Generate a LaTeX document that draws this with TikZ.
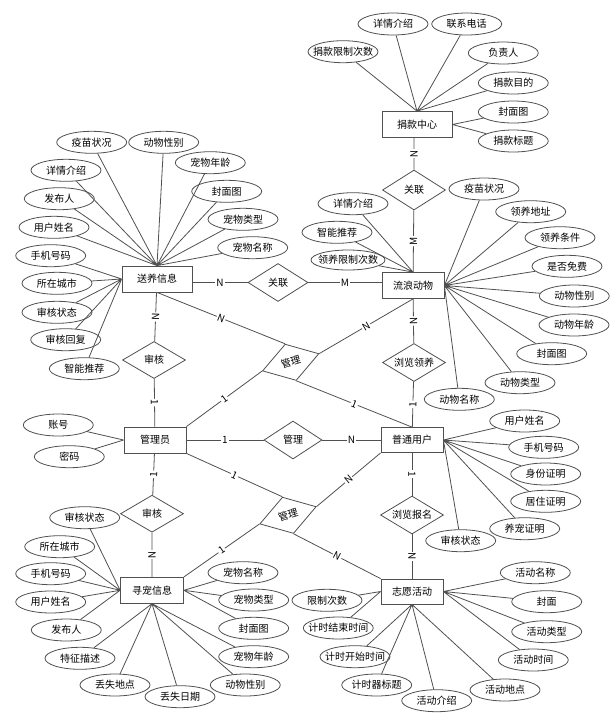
\documentclass[tikz,border=0pt]{standalone}
\usepackage{fontspec}
\setmainfont{Noto Sans CJK SC}
\usetikzlibrary{shapes.geometric}
\definecolor{erline}{RGB}{80,80,80}
\tikzset {
  er node/.style = {
    draw = erline,
    line width = 0.8pt,
    font = \fontsize{10}{12}\selectfont
  },
  % entity set
  entity/.style = {
    er node,
    rectangle,
    minimum width = 62pt,
    minimum height = 26pt,
    inner sep = 0
  },
  % attribute
  attr/.style = {
    er node,
    ellipse,
    minimum width = 70pt,
    minimum height = 22pt,
    inner xsep = -10pt,
    inner ysep = 0
  },
  % relationship
  rel/.style = {
    er node,
    diamond,
    aspect = 1.6,
    minimum width = 62pt,
    minimum height = 38pt,
    inner sep = 0
  }
}
\tikzset {
  link/.style = {
    draw = erline,
    line width = 0.8pt
  },
  % cardinality on a connector
  card/.style = {
    fill = white,
    inner sep = 1pt,
    sloped,
    font = \fontsize{10}{12}\selectfont
  }
}

\begin{document}
\begin{tikzpicture}[x=1pt, y=-1pt]
  \useasboundingbox (0,0) rectangle (613,716);

  % entities
  \node[entity, minimum width=70pt] (donate) at (417,124.5) {捐款中心};
  \node[entity, minimum width=70pt] (adopt-info) at (157,279) {送养信息};
  \node[entity] (stray) at (413,285.5) {流浪动物};
  \node[entity] (admin) at (155,440) {管理员};
  \node[entity, minimum height=25pt] (user) at (412,440) {普通用户};
  \node[entity, minimum width=63pt] (lost-info) at (152,590.3) {寻宠信息};
  \node[entity, minimum height=25pt] (volunteer) at (412,591.5) {志愿活动};

  % relationships
  \node[rel, minimum width=63pt, minimum height=40pt] (rel-donate) at (414,190) {关联};
  \node[rel, minimum width=60pt] (rel-adopt) at (278,282.5) {关联};
  \node[rel, minimum width=63pt, minimum height=37pt] (check-adopt) at (154,360) {审核};
  \node[rel, minimum width=63pt] (browse-adopt) at (414,362.5) {浏览领养};
  \node[rel, minimum width=58pt] (manage) at (293,440) {管理};
  \node[rel, minimum width=63pt, minimum height=37pt] (check-lost) at (152,513.7) {审核};
  \node[rel, minimum width=63pt] (browse-sign) at (412,515) {浏览报名};
  \node[rel, minimum width=59pt, rotate=17] (manage-up) at (290.7,362.3) {管理};
  \node[rel, minimum width=59pt, rotate=17] (manage-down) at (288,515.3) {管理};

  % attributes of 捐款中心
  \node[attr] (dn-limit) at (343,51.7) {捐款限制次数};
  \node[attr] (dn-detail) at (393,24) {详情介绍};
  \node[attr] (dn-phone) at (466.7,24) {联系电话};
  \node[attr] (dn-leader) at (503.3,53) {负责人};
  \node[attr] (dn-purpose) at (513.3,83) {捐款目的};
  \node[attr] (dn-cover) at (513.3,112) {封面图};
  \node[attr] (dn-title) at (513.3,141) {捐款标题};

  % attributes of 送养信息
  \node[attr] (ai-vaccine) at (91.7,142.3) {疫苗状况};
  \node[attr] (ai-gender) at (163.7,142.3) {动物性别};
  \node[attr] (ai-age) at (210.3,162.7) {宠物年龄};
  \node[attr] (ai-cover) at (226.7,191.3) {封面图};
  \node[attr] (ai-type) at (243,219.3) {宠物类型};
  \node[attr] (ai-name) at (252.7,247.7) {宠物名称};
  \node[attr] (ai-detail) at (66,170.3) {详情介绍};
  \node[attr] (ai-poster) at (59.3,198.7) {发布人};
  \node[attr] (ai-username) at (54,227.3) {用户姓名};
  \node[attr] (ai-phone) at (50.7,255.7) {手机号码};
  \node[attr] (ai-city) at (57,283.3) {所在城市};
  \node[attr] (ai-status) at (57,312.3) {审核状态};
  \node[attr] (ai-reply) at (65.7,339.7) {审核回复};
  \node[attr] (ai-recommend) at (84.3,368.7) {智能推荐};

  % attributes of 流浪动物
  \node[attr] (st-detail) at (353,203.7) {详情介绍};
  \node[attr] (st-recommend) at (337,232.3) {智能推荐};
  \node[attr, minimum width=74pt, minimum height=20pt] (st-limit) at (348,260) {领养限制次数};
  \node[attr] (st-vaccine) at (484,189) {疫苗状况};
  \node[attr] (st-address) at (530.7,211.7) {领养地址};
  \node[attr] (st-condition) at (560,237.7) {领养条件};
  \node[attr] (st-free) at (567,266.3) {是否免费};
  \node[attr] (st-gender) at (574.3,296) {动物性别};
  \node[attr] (st-age) at (574,325) {动物年龄};
  \node[attr] (st-cover) at (551.7,353.7) {封面图};
  \node[attr] (st-type) at (520,382.7) {动物类型};
  \node[attr] (st-name) at (459.3,399.3) {动物名称};

  % attributes of 管理员
  \node[attr] (ad-account) at (58.3,425) {账号};
  \node[attr] (ad-password) at (69.3,456.7) {密码};

  % attributes of 普通用户
  \node[attr] (us-name) at (524.7,421) {用户姓名};
  \node[attr] (us-phone) at (543.7,447.3) {手机号码};
  \node[attr] (us-id) at (545.7,474) {身份证明};
  \node[attr] (us-residence) at (545.7,501.3) {居住证明};
  \node[attr] (us-petcert) at (524.7,528.7) {养宠证明};
  \node[attr] (us-status) at (460.7,540.7) {审核状态};

  % attributes of 寻宠信息
  \node[attr] (li-status) at (84.7,517.7) {审核状态};
  \node[attr] (li-city) at (59.7,546.7) {所在城市};
  \node[attr] (li-phone) at (50.7,573.7) {手机号码};
  \node[attr] (li-username) at (50.7,602) {用户姓名};
  \node[attr] (li-poster) at (66.3,630) {发布人};
  \node[attr] (li-feature) at (80,658.3) {特征描述};
  \node[attr] (li-place) at (115,685) {丢失地点};
  \node[attr] (li-date) at (180,696.7) {丢失日期};
  \node[attr] (li-gender) at (245.3,685) {动物性别};
  \node[attr] (li-age) at (253.7,656.7) {宠物年龄};
  \node[attr] (li-name) at (243,572.7) {宠物名称};
  \node[attr] (li-type) at (253.7,600) {宠物类型};
  \node[attr] (li-cover) at (253.7,628.3) {封面图};

  % attributes of 志愿活动
  \node[attr] (vo-limit) at (327,600.3) {限制次数};
  \node[attr] (vo-end) at (338.3,628) {计时结束时间};
  \node[attr] (vo-start) at (355,656.7) {计时开始时间};
  \node[attr] (vo-timer) at (376.7,685) {计时器标题};
  \node[attr] (vo-intro) at (436.7,700.7) {活动介绍};
  \node[attr] (vo-place) at (505,690) {活动地点};
  \node[attr] (vo-time) at (533.3,660) {活动时间};
  \node[attr] (vo-type) at (546.7,631.7) {活动类型};
  \node[attr] (vo-cover) at (546.7,601.7) {封面};
  \node[attr] (vo-name) at (535.3,572.7) {活动名称};

  % attribute connectors
  \draw[link] (donate.north) -- (dn-limit)
    (donate.north) -- (dn-detail)
    (donate.north) -- (dn-phone)
    (donate.north) -- (dn-leader)
    (donate.north) -- (dn-purpose)
    (donate.east) -- (dn-cover)
    (donate.east) -- (dn-title);

  \draw[link] (adopt-info.north) -- (ai-vaccine)
    (adopt-info.north) -- (ai-gender)
    (adopt-info.north) -- (ai-age)
    (adopt-info.north) -- (ai-cover)
    (adopt-info.north) -- (ai-type)
    (adopt-info.north) -- (ai-name)
    (adopt-info.north) -- (ai-detail)
    (adopt-info.north) -- (ai-poster)
    (adopt-info.north) -- (ai-username)
    (adopt-info.west) -- (ai-phone)
    (adopt-info.west) -- (ai-city)
    (adopt-info.west) -- (ai-status)
    (adopt-info.west) -- (ai-reply)
    (adopt-info.west) -- (ai-recommend);

  \draw[link] (stray.north) -- (st-detail)
    (stray.north) -- (st-recommend)
    (stray.north) -- (st-limit)
    (stray.east) -- (st-vaccine)
    (stray.east) -- (st-address)
    (stray.east) -- (st-condition)
    (stray.east) -- (st-free)
    (stray.east) -- (st-gender)
    (stray.east) -- (st-age)
    (stray.east) -- (st-cover)
    (stray.east) -- (st-type)
    (stray.east) -- (st-name);

  \draw[link] (admin.west) -- (ad-account)
    (admin.west) -- (ad-password);

  \draw[link] (user.east) -- (us-name)
    (user.east) -- (us-phone)
    (user.east) -- (us-id)
    (user.east) -- (us-residence)
    (user.east) -- (us-petcert)
    (user.east) -- (us-status);

  \draw[link] (lost-info.west) -- (li-status)
    (lost-info.west) -- (li-city)
    (lost-info.west) -- (li-phone)
    (lost-info.west) -- (li-username)
    (lost-info.west) -- (li-poster)
    (lost-info.south) -- (li-feature)
    (lost-info.south) -- (li-place)
    (lost-info.south) -- (li-date)
    (lost-info.south) -- (li-gender)
    (lost-info.south) -- (li-age)
    (lost-info.east) -- (li-name)
    (lost-info.east) -- (li-type)
    (lost-info.east) -- (li-cover);

  \draw[link] (volunteer.west) -- (vo-limit)
    (volunteer.west) -- (vo-end)
    (volunteer.south) -- (vo-start)
    (volunteer.south) -- (vo-timer)
    (volunteer.south) -- (vo-intro)
    (volunteer.south) -- (vo-place)
    (volunteer.east) -- (vo-time)
    (volunteer.east) -- (vo-type)
    (volunteer.east) -- (vo-cover)
    (volunteer.east) -- (vo-name);

  % relationship connectors
  \draw[link] (donate.south -| rel-donate) -- node[card] {N} (rel-donate)
    -- node[card] {M} (stray);

  \draw[link] (adopt-info.east |- rel-adopt) -- node[card] {N} (rel-adopt)
    -- node[card] {M} (stray.west |- rel-adopt);

  \draw[link] (adopt-info) -- node[card] {N} (check-adopt)
    -- node[card] {1} (admin);

  \draw[link] (stray) -- node[card] {N} (browse-adopt)
    -- node[card] {1} (user);

  \draw[link] (admin) -- node[card] {1} (manage)
    -- node[card] {N} (user);

  \draw[link] (admin) -- node[card] {1} (check-lost)
    -- node[card] {N} (lost-info);

  \draw[link] (user) -- node[card] {1} (browse-sign)
    -- node[card] {N} (volunteer);

  \draw[link] (adopt-info.south) -- node[card] {N} (manage-up.north);
  \draw[link] (stray.south) -- node[card] {N} (manage-up.east);
  \draw[link] (admin.north east) -- node[card] {1} (manage-up.west);
  \draw[link] (manage-up.south) -- node[card] {1} (user.north);

  \draw[link] (admin.south east) -- node[card] {1} (manage-down.north);
  \draw[link] (user.south west) -- node[card] {N} (manage-down.east);
  \draw[link] (manage-down.west) -- node[card] {1} (lost-info.north east);
  \draw[link] (manage-down.south) -- node[card] {N} (volunteer.north west);
\end{tikzpicture}
\end{document}
